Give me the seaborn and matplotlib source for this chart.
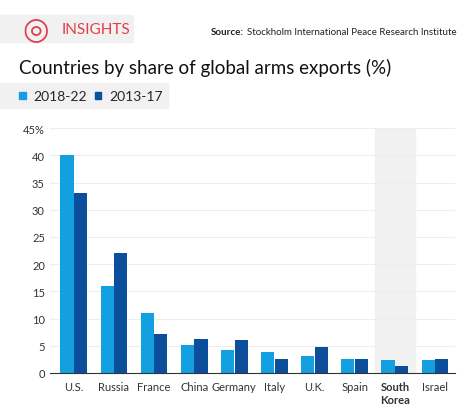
import pandas as pd
import matplotlib.pyplot as plt
import seaborn as sns
from matplotlib.patches import Rectangle

countries = ["U.S.", "Russia", "France", "China", "Germany", "Italy", "U.K.", "Spain", "South\nKorea", "Israel"]
share_2018_22 = [40, 16, 11, 5.2, 4.2, 3.8, 3.2, 2.6, 2.4, 2.3]
share_2013_17 = [33, 22, 7.1, 6.3, 6.1, 2.5, 4.7, 2.5, 1.3, 2.5]
periods = ["2018-22", "2013-17"]
colors = ["#14a0e0", "#0b4f9c"]

df = pd.DataFrame({"Country": countries * 2,
                   "Period": [periods[0]] * len(countries) + [periods[1]] * len(countries),
                   "Share": share_2018_22 + share_2013_17})

sns.set_style("white")
plt.rcParams["font.family"] = ["Lato", "DejaVu Sans"]

fig = plt.figure(figsize=(4.74, 4.10), dpi=100)
ax = fig.add_axes([0.105, 0.088, 0.855, 0.597])

ax.axvspan(7.5, 8.5, color="#f1f1f1", zorder=0)
sns.barplot(data=df, x="Country", y="Share", hue="Period", palette=colors, saturation=1,
            width=0.68, gap=0.04, ax=ax, legend=False, zorder=2, linewidth=0)

ax.set_ylim(0, 45)
ax.set_xlim(-0.6, 9.5)
ax.set_yticks(range(0, 46, 5))
ax.set_yticklabels([str(v) for v in range(0, 41, 5)] + ["45%"])
ax.yaxis.grid(True, color="#eeeeee", lw=0.8, zorder=0)
ax.set_axisbelow(True)
for s in ["top", "right", "left"]:
    ax.spines[s].set_visible(False)
ax.spines["bottom"].set_color("#333333")
ax.tick_params(axis="both", length=0, labelsize=8, colors="#333333")
ax.tick_params(axis="x", pad=6)
ax.set_xlabel("")
ax.set_ylabel("")
for lbl in ax.get_xticklabels():
    if "Korea" in lbl.get_text():
        lbl.set_fontweight("bold")

# header
fig.patches.append(Rectangle((0.0, 0.895), 0.28, 0.065, transform=fig.transFigure, color="#f1f1f1"))
fig.text(0.075, 0.927, "◎", color="#e0404a", fontsize=22, va="center", ha="center")
fig.text(0.13, 0.927, "INSIGHTS", color="#e0404a", fontsize=11, va="center")
fig.text(0.445, 0.921, "Source:", fontsize=7, fontweight="bold", va="center", color="#222222")
fig.text(0.522, 0.921, "Stockholm International Peace Research Institute", fontsize=7, va="center", color="#222222")
fig.text(0.04, 0.835, "Countries by share of global arms exports (%)", fontsize=13.5, va="center", color="#111111")

fig.patches.append(Rectangle((0.0, 0.735), 0.355, 0.06, transform=fig.transFigure, color="#f1f1f1"))
fig.patches.append(Rectangle((0.04, 0.755), 0.014, 0.018, transform=fig.transFigure, color=colors[0]))
fig.text(0.07, 0.764, periods[0], fontsize=10, va="center")
fig.patches.append(Rectangle((0.2, 0.755), 0.014, 0.018, transform=fig.transFigure, color=colors[1]))
fig.text(0.23, 0.764, periods[1], fontsize=10, va="center")

plt.savefig("out.png", dpi=100)
